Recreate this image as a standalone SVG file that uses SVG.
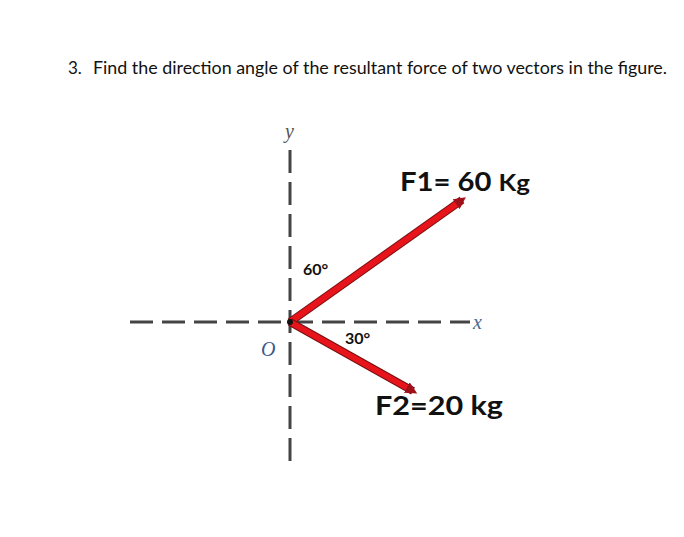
<svg xmlns="http://www.w3.org/2000/svg" width="684" height="537" viewBox="0 0 684 537">
<defs>
<style>
.axis{stroke:#444;stroke-width:3;stroke-dasharray:23 9;fill:none}
.vec{stroke:#e8141b;stroke-width:6;fill:none}
.vecedge{stroke:#7a1010;stroke-width:8;fill:none}
.lbl{font-family:Lato,"Liberation Sans",sans-serif;font-weight:bold;fill:#111}
.ang{font-family:Lato,"Liberation Sans",sans-serif;font-weight:bold;font-size:16px;fill:#111}
.var{font-family:"Liberation Serif",serif;font-style:italic;font-size:20px}
</style>
<marker id="ah" markerWidth="12" markerHeight="12" refX="6" refY="6" orient="auto" markerUnits="userSpaceOnUse">
<path d="M0,0 L12,6 L0,12 Z" fill="#a01018"/>
</marker>
</defs>
<rect width="684" height="537" fill="#fff"/>
<text x="68" y="74" font-family="Lato,'Liberation Sans',sans-serif" font-size="17" fill="#111">3.</text>
<text x="93" y="74" font-family="Lato,'Liberation Sans',sans-serif" font-size="17" fill="#111" textLength="574" lengthAdjust="spacingAndGlyphs">Find the direction angle of the resultant force of two vectors in the figure.</text>
<g id="axes">
<line class="axis" x1="290" y1="150" x2="290" y2="466"/>
<line class="axis" x1="130" y1="322" x2="470" y2="322"/>
</g>
<g id="connectors">
<line class="vecedge" x1="290" y1="322" x2="462" y2="200"/>
<line class="vec" x1="290" y1="322" x2="461" y2="200.7" marker-end="url(#ah)"/>
<line class="vecedge" x1="290" y1="322" x2="413" y2="391"/>
<line class="vec" x1="290" y1="322" x2="412" y2="390.5" marker-end="url(#ah)"/>
<circle cx="290" cy="322" r="3" fill="#111"/>
</g>
<g id="labels">
<text class="var" x="285" y="138" fill="#555">y</text>
<text class="var" x="473" y="329" fill="#4a6a90">x</text>
<text class="var" x="261" y="356" fill="#3a5a8a">O</text>
<text class="ang" x="303" y="275">60°</text>
<text class="ang" x="345" y="344">30°</text>
<text class="lbl" x="400" y="191" font-size="26" textLength="130" lengthAdjust="spacingAndGlyphs">F1= 60 <tspan font-size="23">Kg</tspan></text>
<text class="lbl" x="375" y="415" font-size="26" textLength="128" lengthAdjust="spacingAndGlyphs">F2=20 kg</text>
</g>
</svg>
